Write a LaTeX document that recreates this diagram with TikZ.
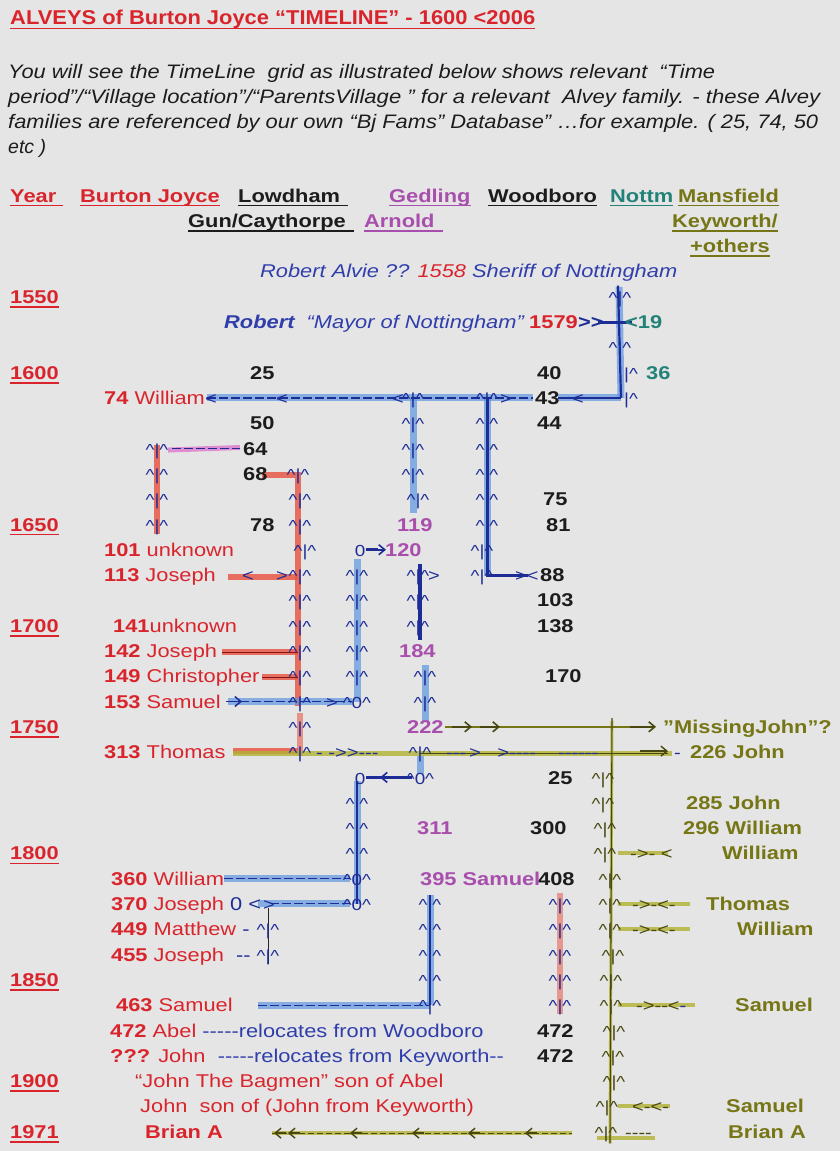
\documentclass[tikz,border=0pt]{standalone}
\usepackage{fontspec}
\usepackage{graphicx}
\usetikzlibrary{arrows.meta}
\setmainfont{Liberation Sans}
\newfontfamily\bodyf[FakeStretch=1.18]{Liberation Sans}
\newfontfamily\plainf{Liberation Sans}
\definecolor{bg}{RGB}{229,229,229}
\definecolor{rd}{RGB}{218,36,44}
\definecolor{bk}{RGB}{28,28,28}
\definecolor{pu}{RGB}{168,78,172}
\definecolor{tl}{RGB}{35,130,120}
\definecolor{ol}{RGB}{118,118,22}
\definecolor{bl}{RGB}{48,62,172}
\definecolor{mb}{RGB}{30,45,150}
\definecolor{hb}{RGB}{95,150,225}
\definecolor{hr}{RGB}{232,88,72}
\definecolor{hp}{RGB}{222,120,205}
\definecolor{ho}{RGB}{178,178,52}
\definecolor{dol}{RGB}{72,72,16}
\newcommand\M{\textasciicircum|\textasciicircum}
\newcommand\MO{\textasciicircum0\textasciicircum}
\newcommand\fitto[2]{\resizebox{#1}{\height}{#2}}
\tikzset{
  tx/.style={anchor=base west, inner sep=0pt, font=\bodyf\fontsize{18.5}{22}\selectfont},
  hd/.style={anchor=base west, inner sep=0pt, font=\bodyf\fontsize{18.5}{22}\selectfont\bfseries},
  mk/.style={anchor=base, inner sep=0pt, font=\bodyf\fontsize{16}{20}\selectfont, text=mb},
  mko/.style={mk, text=dol},
  hlb/.style={draw=hb, line width=7pt, opacity=.7},
  hlr/.style={draw=hr, line width=6pt, opacity=.85},
  hlo/.style={draw=ho, line width=4pt, opacity=.8},
  hlp/.style={draw=hp, line width=5pt, opacity=.8},
  dkb/.style={draw=mb, line width=1.8pt},
  dsh/.style={draw=mb, line width=1.3pt, dash pattern=on 9pt off 3pt},
  dko/.style={draw=dol, line width=1.3pt},
  tip/.style={-{Straight Barb[length=6pt,width=10pt]}},
  pit/.style={{Straight Barb[length=6pt,width=10pt]}-},
}
\newcommand\ulnode[6]{%
  \node[hd, text=#2] (#1) at (#3,#4) {#5};
  \draw[#2, line width=1.8pt] ([yshift=-3.5pt]#1.base west) -- ([yshift=-3.5pt,xshift=#6]#1.base east);}
\begin{document}
\begin{tikzpicture}[x=1pt,y=-25.3pt]
\useasboundingbox (0,-10.988) rectangle (840,34.506);
\fill[bg] (0,-10.988) rectangle (840,34.506);

% ---------- title and intro ----------
\node[anchor=base west, inner sep=0pt, text=rd, font=\plainf\fontsize{20}{22}\selectfont\bfseries] (title) at (10,-10.0)
  {\fitto{525pt}{ALVEYS of Burton Joyce “TIMELINE” - 1600 <2006}};
\draw[rd, line width=1.8pt] ([yshift=-3.5pt]title.base west) -- ([yshift=-3.5pt]title.base east);
\tikzset{intro/.style={anchor=base west, inner sep=0pt, text=bk, font=\plainf\fontsize{19.5}{22}\selectfont\itshape}}
\node[intro] (i1) at (8,-7.87) {\fitto{707pt}{You will see the TimeLine\ \ grid as illustrated below shows relevant\ \ “Time}};
\node[intro] (i2) at (8,-6.88) {\fitto{812pt}{period”/“Village location”/“ParentsVillage ” for a relevant\ \ Alvey family. - these Alvey}};
\node[intro] (i3) at (8,-5.89) {\fitto{810pt}{families are referenced by our own “Bj Fams” Database” …for example. ( 25, 74, 50}};
\node[intro] (i4) at (8,-4.94) {etc )};

% ---------- column headers ----------
\ulnode{hYear}{rd}{10}{-3}{Year}{6pt}
\ulnode{hBJ}{rd}{80}{-3}{Burton Joyce}{0pt}
\ulnode{hLow}{bk}{238}{-3}{Lowdham}{8pt}
\ulnode{hGed}{pu}{389}{-3}{Gedling}{0pt}
\ulnode{hWood}{bk}{488}{-3}{Woodboro}{0pt}
\ulnode{hNot}{tl}{610}{-3}{Nottm}{0pt}
\ulnode{hMan}{ol}{678}{-3}{Mansfield}{0pt}
\ulnode{hGun}{bk}{188}{-2}{Gun/Caythorpe}{8pt}
\ulnode{hArn}{pu}{364}{-2}{Arnold}{8pt}
\ulnode{hKey}{ol}{672}{-2}{Keyworth/}{0pt}
\ulnode{hOth}{ol}{690}{-1}{+others}{0pt}

% ---------- year labels ----------
\ulnode{y1550}{rd}{10}{1}{1550}{0pt}
\ulnode{y1600}{rd}{10}{4}{1600}{0pt}
\ulnode{y1650}{rd}{10}{10}{1650}{0pt}
\ulnode{y1700}{rd}{10}{14}{1700}{0pt}
\ulnode{y1750}{rd}{10}{18}{1750}{0pt}
\ulnode{y1800}{rd}{10}{23}{1800}{0pt}
\ulnode{y1850}{rd}{10}{28}{1850}{0pt}
\ulnode{y1900}{rd}{10}{32}{1900}{0pt}
\ulnode{y1971}{rd}{10}{34}{1971}{0pt}

% ---------- highlighter strokes (behind) ----------
\draw[hlb] (619,0.35) -- (621,4.74);
\draw[hlb] (558,4.74) -- (621,4.74);
\draw[hlb] (207,4.74) -- (533,4.74);
\draw[hlb] (413,4.74) -- (413,9.3);
\draw[hlb] (487,4.74) -- (487,11.74);
\draw[hlr] (157,6.6) -- (157,10.1);
\draw[hlp] (168,6.8) -- (240,6.7);
\draw[hlr] (262,7.78) -- (298,7.78) -- (298,16.9);
\draw[hlr, opacity=.6] (300,17.2) -- (300,18.9);
\draw[hlr] (228,11.8) -- (298,11.8);
\draw[hlr] (222,14.8) -- (298,14.8);
\draw[hlr] (262,15.78) -- (298,15.78);
\draw[hlr] (233,18.68) -- (298,18.68);
\draw[hlb] (357,11.1) -- (357,16.74);
\draw[hlb] (228,16.74) -- (352,16.74);
\draw[hlb] (425,15.3) -- (425,17.5);
\draw[hlb] (420,18.9) -- (420,19.6);
\draw[hlo, line width=5pt] (233,18.8) -- (672,18.8);
\draw[hlo, line width=3pt] (612,17.5) -- (610,34.2);
\draw[hlo] (618,22.74) -- (668,22.74);
\draw[hlo] (618,24.74) -- (690,24.74);
\draw[hlo] (618,25.74) -- (690,25.74);
\draw[hlo] (618,28.74) -- (695,28.74);
\draw[hlo] (618,32.74) -- (670,32.74);
\draw[hlo] (597,34.0) -- (655,34.0);
\draw[hlo] (272,33.8) -- (572,33.8);
\draw[hlb] (357,19.9) -- (357,24.74);
\draw[hlb] (224,23.74) -- (350,23.74);
\draw[hlb] (258,24.74) -- (350,24.74);
\draw[hlb] (430,24.4) -- (430,28.74);
\draw[hlb] (258,28.74) -- (430,28.74);
\draw[hlr, opacity=.55] (560,24.3) -- (560,29.1);

% ---------- pen strokes ----------
\draw[dkb, line width=2.2pt] (618,0.3) -- (621,4.74);
\draw[dkb, line width=3pt] (598,1.74) -- (632,1.74);
\draw[dkb, line width=2.5pt] (619,1.4) -- (619,2.1);
\draw[dkb] (558,4.74) -- (621,4.74);
\draw[dsh] (207,4.74) -- (533,4.74);
\draw[dkb, line width=3pt] (487,4.74) -- (487,11.74) -- (528,11.74);
\draw[dsh, line width=1pt] (172,6.72) -- (240,6.72);
\draw[rd!60!black, line width=1pt] (222,14.8) -- (298,14.8);
\draw[rd!60!black, line width=1pt] (262,15.78) -- (298,15.78);
\draw[dsh, line width=1pt] (228,16.74) -- (352,16.74);
\draw[dkb, tip, line width=1.5pt] (226,16.74) -- (242,16.74);
\draw[dkb, line width=3pt] (366,10.74) -- (378,10.74);
\draw[dkb, tip, line width=1.6pt] (366,10.74) -- (386,10.74);
\draw[dkb, line width=3.5pt] (420,11.3) -- (420,14.3);
% olive
\draw[ol, line width=2pt] (445,17.74) -- (652,17.74);
\draw[dol, tip, line width=1.6pt] (452,17.74) -- (472,17.74);
\draw[dol, tip, line width=1.6pt] (480,17.74) -- (500,17.74);
\draw[dol, tip, line width=1.6pt] (630,17.74) -- (656,17.74);
\draw[dko] (420,18.8) -- (668,18.8);
\draw[dol, tip, line width=1.4pt] (640,18.7) -- (668,18.7);
\draw[dko, line width=1.1pt] (612,17.4) -- (610,34.2);
\draw[dol, line width=1pt, dash pattern=on 6pt off 3pt] (272,33.8) -- (572,33.8);
\foreach \ax in {274,288,350,412,468,525} \draw[dol, pit, line width=1.4pt] (\ax,33.8) -- (\ax+12,33.8);
% blue C
\draw[dkb, line width=2.5pt] (366,19.74) -- (412,19.74);
\draw[dkb, pit, line width=1.6pt] (380,19.74) -- (396,19.74);
\draw[dkb, line width=2.5pt] (357,19.9) -- (357,24.74);
\draw[dsh, line width=1pt] (224,23.74) -- (350,23.74);
\draw[dsh, line width=1pt] (270,24.74) -- (350,24.74);
\draw[gray!30!black, line width=.8pt] (268,24.9) -- (268,27.1);
\draw[dkb, line width=2pt] (430,24.4) -- (430,28.74);
\draw[dsh, line width=1pt] (258,28.74) -- (430,28.74);

% ---------- Robert / Nottm group ----------
\node[tx, text=bl, font=\bodyf\fontsize{18.5}{22}\selectfont\itshape] (sheriff) at (260,0)
  {Robert Alvie ?? \textcolor{rd}{1558} Sheriff of Nottingham};
\node[mk] (m1) at (620,1) {\M};
\node[tx, text=bl, font=\bodyf\fontsize{18.5}{22}\selectfont\itshape] (mayor) at (224,2)
  {\textbf{Robert}\ \ “Mayor of Nottingham”};
\node[tx, text=rd, font=\bodyf\fontsize{18.5}{22}\selectfont\bfseries, anchor=base east] (y1579) at (578,2) {1579};
\node[tx, text=mb, font=\bodyf\fontsize{18.5}{22}\selectfont\bfseries] (gg) at (578,2) {>>};
\node[hd, text=tl] (n19) at (625,2) {<19};
\node[mk] (m3) at (620,3) {\M};
\node[mk, anchor=base west] (m4) at (624,4) {|\textasciicircum};
\node[hd, text=tl] (n36) at (646,4) {36};
\node[mk, anchor=base west] (m5) at (624,5) {|\textasciicircum};

% ---------- black numbers (Lowdham / Woodboro) ----------
\tikzset{num/.style={hd, text=bk}}
\node[num] (n25) at (250,4) {25};
\node[num] (n40) at (537,4) {40};
\node[num] (n43) at (535,5) {43};
\node[num] (n50) at (250,6) {50};
\node[num] (n44) at (537,6) {44};
\node[num] (n64) at (243,7) {64};
\node[num] (n68) at (243,8) {68};
\node[num] (n75) at (543,9) {75};
\node[num] (n78) at (250,10) {78};
\node[num] (n81) at (546,10) {81};
\node[num] (n88) at (540,12) {88};
\node[num] (n103) at (537,13) {103};
\node[num] (n138) at (537,14) {138};
\node[num] (n170) at (545,16) {170};
\node[num] (n25b) at (548,20) {25};
\node[num] (n300) at (530,22) {300};
\node[num] (n408) at (538,24) {408};
\node[num] (n472a) at (537,30) {472};
\node[num] (n472b) at (537,31) {472};

% ---------- purple numbers ----------
\tikzset{pnum/.style={hd, text=pu}}
\node[pnum] (n119) at (397,10) {119};
\node[pnum] (n120) at (385,11) {120};
\node[pnum] (n184) at (399,15) {184};
\node[pnum] (n222) at (407,18) {222};
\node[pnum] (n311) at (417,22) {311};
\node[pnum] (n395) at (420,24) {395 Samuel};

% ---------- Burton Joyce names ----------
\tikzset{nm/.style={tx, text=rd}}
\node[nm] (w74) at (104,5) {\textbf{74} William};
\node[nm] (u101) at (104,11) {\textbf{101} unknown};
\node[nm] (j113) at (104,12) {\textbf{113} Joseph};
\node[nm] (u141) at (113,14) {\textbf{141}unknown};
\node[nm] (j142) at (104,15) {\textbf{142} Joseph};
\node[nm] (c149) at (104,16) {\textbf{149} Christopher};
\node[nm] (s153) at (104,17) {\textbf{153} Samuel};
\node[nm] (t313) at (104,19) {\textbf{313} Thomas};
\node[nm] (w360) at (111,24) {\textbf{360} William};
\node[nm] (j370) at (111,25) {\textbf{370} Joseph \textcolor{mb}{0 <}};
\node[nm] (m449) at (111,26) {\textbf{449} Matthew \textcolor{mb}{-}};
\node[nm] (j455) at (111,27) {\textbf{455} Joseph\ \ \textcolor{mb}{--}};
\node[nm] (s463) at (116,29) {\textbf{463} Samuel};
\node[nm] (a472) at (110,30) {\textbf{472} Abel \textcolor{bl}{-----relocates from Woodboro}};
\node[nm] (jq) at (110,31) {\textbf{???} John\ \ \textcolor{bl}{-----relocates from Keyworth--}};
\node[nm] (bag) at (135,32) {“John The Bagmen” son of Abel};
\node[nm] (json) at (140,33) {John\ \ son of (John from Keyworth)};
\node[nm, font=\bodyf\fontsize{18.5}{22}\selectfont\bfseries] (brian) at (145,34) {Brian A};

% ---------- olive names ----------
\tikzset{onm/.style={hd, text=ol}}
\node[onm] (miss) at (663,18) {”MissingJohn”?};
\node[onm] (j226) at (690,19) {226 John};
\node[onm] (j285) at (686,21) {285 John};
\node[onm] (w296) at (683,22) {296 William};
\node[onm] (w23) at (722,23) {William};
\node[onm] (th25) at (706,25) {Thomas};
\node[onm] (w26) at (737,26) {William};
\node[onm] (s29) at (735,29) {Samuel};
\node[onm] (s33) at (726,33) {Samuel};
\node[onm] (b34) at (728,34) {Brian A};

% ---------- small blue arrow glyphs ----------
\tikzset{ag/.style={tx, text=mb, font=\bodyf\fontsize{17}{20}\selectfont}}
\node[ag] (a1) at (205,5) {<};
\node[ag] (a2) at (276,5) {<};
\node[ag] (a3) at (392,5) {<};
\node[ag] (a4) at (500,5) {>};
\node[ag] (a5) at (572,5) {<};
\node[ag] (a6) at (242,12) {<};
\node[ag] (a7) at (276,12) {>};
\node[ag] (a8) at (515,12) {><};
\node[ag] (a9) at (428,12) {>};
\node[ag] (a10) at (326,17) {>};
\node[ag] (a11) at (316,19) {-\ ->>---};
\node[ag] (a12) at (446,19) {---\,>\ \ \ >----\ \ \ \ ------};
\node[ag] (a13) at (674,19) {-};
\node[mk] (z0a) at (360,11) {0};
\node[mk] (z0b) at (360,20) {0};
\node[ag] (a14) at (263,25) {>};

% olive small glyphs
\tikzset{og/.style={tx, text=dol, font=\bodyf\fontsize{17}{20}\selectfont}}
\node[og] (o1) at (630,23) {->-\ <};
\node[og] (o2) at (632,25) {->-<-};
\node[og] (o3) at (632,26) {->-<-};
\node[og] (o4) at (636,29) {->--<\textcolor{mb}{-}};
\node[og] (o5) at (632,33) {<-<-};
\node[og] (o6) at (625,34) {----};

% ---------- blue markers ----------
\foreach \x/\k in {413/5,487/5,413/6,487/6,157/7,413/7,487/7,157/8,298/8,413/8,487/8,
  157/9,300/9,418/9,487/9,157/10,300/10,487/10,305/11,482/11,300/12,357/12,418/12,482/12,
  300/13,357/13,418/13,300/14,357/14,418/14,300/15,357/15,300/16,357/16,425/16,
  300/17,425/17,300/18,300/19,420/19,357/21,357/22,357/23,430/25,560/25,268/26,430/26,560/26,
  268/27,430/27,560/27,430/28,560/28,430/29,560/29}
  \node[mk] at (\x,\k) {\M};
\foreach \x/\k in {357/17,420/20,357/24,357/25}
  \node[mk] at (\x,\k) {\MO};
% ---------- olive markers ----------
\foreach \x/\k in {603/20,603/21,605/22,605/23,610/24,610/25,610/26,613/27,611/28,611/29,
  614/30,613/31,614/32,607/33,606/34}
  \node[mko] at (\x,\k) {\M};
\end{tikzpicture}
\end{document}
